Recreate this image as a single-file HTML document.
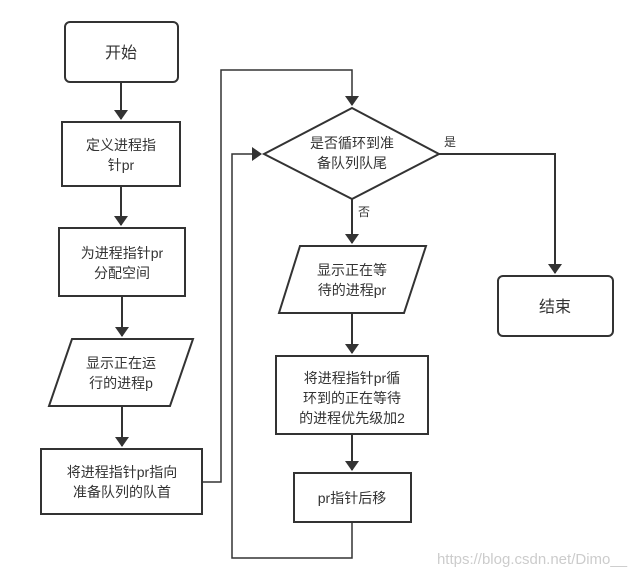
<!DOCTYPE html>
<html><head><meta charset="utf-8"><style>
html,body{margin:0;padding:0;background:#fff;}
svg text{font-family:"Liberation Sans","Noto Sans CJK SC",sans-serif;font-size:14px;fill:#333;text-anchor:middle;}
</style></head><body>
<svg width="641" height="579" viewBox="0 0 641 579" xmlns="http://www.w3.org/2000/svg">
<defs><marker id="a" markerWidth="10" markerHeight="14" refX="9" refY="7" orient="auto" markerUnits="userSpaceOnUse"><path d="M0,0 L10,7 L0,14 z" fill="#333"/></marker></defs>
<g stroke="#333" stroke-width="2" fill="#fff">
<rect x="65" y="22" width="113" height="60" rx="5"/>
<rect x="62" y="122" width="118" height="64"/>
<rect x="59" y="228" width="126" height="68"/>
<polygon points="72,339 193,339 170,406 49,406"/>
<rect x="41" y="449" width="161" height="65"/>
<polygon points="352,108 439,154 352,199 264,154"/>
<polygon points="300,246 426,246 404,313 279,313"/>
<rect x="276" y="356" width="152" height="78"/>
<rect x="294" y="473" width="117" height="49"/>
<rect x="498" y="276" width="115" height="60" rx="5"/>
</g>
<g stroke="#333" stroke-width="2" fill="none" marker-end="url(#a)">
<line x1="121" y1="82" x2="121" y2="119"/>
<line x1="121" y1="186" x2="121" y2="225"/>
<line x1="122" y1="296" x2="122" y2="336"/>
<line x1="122" y1="406" x2="122" y2="446"/>
<line x1="352" y1="199" x2="352" y2="243"/>
<line x1="352" y1="313" x2="352" y2="353"/>
<line x1="352" y1="434" x2="352" y2="470"/>
<polyline points="439,154 555,154 555,273"/>
</g>
<g stroke="#333" stroke-width="1.5" fill="none">
<polyline points="202,482 221,482 221,70 352,70 352,105" marker-end="url(#a)"/>
<polyline points="352,522 352,558 232,558 232,154 261,154" marker-end="url(#a)"/>
</g>
<text x="121" y="58" font-size="16" style="font-size:16px">开始</text>
<text x="121" y="150">定义进程指</text><text x="121" y="170">针pr</text>
<text x="122" y="258">为进程指针pr</text><text x="122" y="278">分配空间</text>
<text x="121" y="368">显示正在运</text><text x="121" y="388">行的进程p</text>
<text x="122" y="477">将进程指针pr指向</text><text x="122" y="497">准备队列的队首</text>
<text x="352" y="148">是否循环到准</text><text x="352" y="168">备队列队尾</text>
<text x="352" y="275">显示正在等</text><text x="352" y="295">待的进程pr</text>
<text x="352" y="383">将进程指针pr循</text><text x="352" y="403">环到的正在等待</text><text x="352" y="423">的进程优先级加2</text>
<text x="352" y="503">pr指针后移</text>
<text x="555" y="312" style="font-size:16px">结束</text>
<text x="450" y="146" style="font-size:12px">是</text>
<text x="364" y="216" style="font-size:12px">否</text>
<text x="532" y="564" style="font-size:15px;fill:#ccc">https://blog.csdn.net/Dimo__</text>
</svg>
</body></html>
